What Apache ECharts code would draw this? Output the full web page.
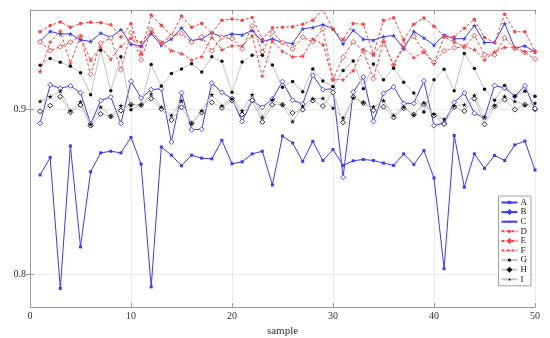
<!DOCTYPE html>
<html>
<head>
<meta charset="utf-8">
<script src="https://cdn.jsdelivr.net/npm/echarts@6/dist/echarts.min.js"></script>
<style>html,body{margin:0;padding:0;background:#fff}#chart{width:550px;height:338px}</style>
</head>
<body>
<div id="chart"></div>
<script>
const samples = [1,2,3,4,5,6,7,8,9,10,11,12,13,14,15,16,17,18,19,20,21,22,23,24,25,26,27,28,29,30,31,32,33,34,35,36,37,38,39,40,41,42,43,44,45,46,47,48,49,50];
const seriesNames = ['A','B','C','D','E','F','G','H','I'];
const xTickLabels = [0,10,20,30,40,50];
const yTickLabels = [0.8,0.9];

const dataA = [0.860,0.8706,0.7912,0.8776,0.8164,0.862,0.8734,0.8744,0.8734,0.8828,0.8666,0.7922,0.877,0.872,0.8656,0.872,0.8702,0.8698,0.881,0.8668,0.868,0.8728,0.8744,0.854,0.8836,0.8794,0.8682,0.8804,0.8688,0.8754,0.8658,0.8686,0.8694,0.8688,0.8672,0.8658,0.8728,0.8664,0.8748,0.8582,0.8032,0.884,0.8526,0.8728,0.864,0.8718,0.8688,0.8782,0.8806,0.863];
const dataB = [0.8913,0.9146,0.9126,0.914,0.9099,0.8909,0.9051,0.9073,0.8913,0.9168,0.9067,0.9117,0.9123,0.88,0.9099,0.8874,0.8877,0.9158,0.9101,0.9063,0.8925,0.9051,0.901,0.9061,0.9166,0.9053,0.903,0.9204,0.9117,0.9123,0.8587,0.9103,0.9194,0.8925,0.9095,0.9134,0.9034,0.9034,0.917,0.8899,0.8915,0.904,0.9097,0.8974,0.8947,0.9142,0.9128,0.9077,0.914,0.8996];
const dataC = [0.9411,0.947,0.9455,0.9455,0.9419,0.9409,0.946,0.9433,0.9482,0.9393,0.9381,0.9457,0.9387,0.9425,0.9492,0.9415,0.9425,0.9462,0.9437,0.9455,0.9449,0.9476,0.9409,0.9425,0.9403,0.9397,0.9486,0.9494,0.9512,0.9486,0.9395,0.9478,0.9423,0.9417,0.9439,0.9445,0.9364,0.947,0.9431,0.9387,0.9449,0.9425,0.9427,0.9506,0.9403,0.9403,0.9518,0.9368,0.9383,0.9346];
const dataD = [0.9468,0.9506,0.9528,0.9496,0.9518,0.9526,0.9522,0.951,0.9437,0.9516,0.9334,0.9569,0.9508,0.9445,0.9563,0.9496,0.9518,0.946,0.9538,0.9545,0.9538,0.9555,0.9421,0.9492,0.9496,0.9498,0.9514,0.9538,0.9601,0.9484,0.9421,0.9518,0.9514,0.933,0.9536,0.9553,0.9419,0.9514,0.9551,0.9502,0.9439,0.9437,0.949,0.9543,0.9433,0.9403,0.9575,0.9468,0.9468,0.935];
const dataE = [0.9407,0.9354,0.9377,0.9405,0.9441,0.9211,0.9399,0.9431,0.9237,0.9462,0.9298,0.948,0.9401,0.9441,0.9457,0.9405,0.9437,0.9352,0.9435,0.9427,0.9364,0.9504,0.9346,0.9466,0.9403,0.9364,0.9435,0.9407,0.9486,0.918,0.9314,0.9407,0.9354,0.9184,0.9409,0.9265,0.9393,0.9441,0.935,0.9283,0.9352,0.937,0.9377,0.9445,0.933,0.9328,0.9431,0.9368,0.9342,0.9304];
const dataF = [0.9227,0.9407,0.9472,0.9279,0.9441,0.9296,0.9374,0.9302,0.9381,0.9429,0.9405,0.947,0.9401,0.9354,0.9336,0.9298,0.9318,0.9435,0.936,0.9383,0.9383,0.9445,0.92,0.9411,0.935,0.9316,0.932,0.9425,0.9391,0.918,0.9178,0.9233,0.936,0.9328,0.9409,0.9267,0.9374,0.9312,0.9346,0.9275,0.9439,0.9405,0.9381,0.936,0.9298,0.9348,0.9374,0.9374,0.9348,0.935];
const dataG = [0.9265,0.9306,0.9283,0.9259,0.9219,0.9087,0.9356,0.9111,0.9316,0.8996,0.9026,0.9269,0.914,0.9215,0.9243,0.9275,0.9225,0.9316,0.9289,0.9101,0.9285,0.9326,0.9326,0.9267,0.9132,0.9166,0.9105,0.9243,0.917,0.9136,0.9233,0.9291,0.9123,0.9273,0.9178,0.9247,0.9162,0.9097,0.8982,0.9178,0.9241,0.9111,0.9336,0.9245,0.9119,0.9053,0.9142,0.9077,0.9107,0.9077];
const dataH = [0.8986,0.902,0.9075,0.898,0.9024,0.8899,0.897,0.8955,0.899,0.9026,0.9024,0.9063,0.9,0.8933,0.901,0.8913,0.8978,0.904,0.9006,0.9051,0.8966,0.9053,0.8921,0.9026,0.9026,0.8976,0.8996,0.9051,0.9018,0.9101,0.8919,0.9073,0.9036,0.8992,0.9014,0.8949,0.9004,0.8966,0.903,0.896,0.8909,0.9012,0.8988,0.9063,0.8907,0.9016,0.9057,0.8996,0.9026,0.9002];
const dataI = [0.9047,0.9075,0.9109,0.899,0.9043,0.8907,0.9012,0.8957,0.902,0.9026,0.9026,0.9091,0.9012,0.8962,0.9049,0.8913,0.899,0.9087,0.902,0.9061,0.899,0.9087,0.8949,0.9057,0.9026,0.8925,0.9016,0.9063,0.9065,0.9006,0.8947,0.9067,0.904,0.9014,0.9051,0.8962,0.9012,0.8964,0.9038,0.897,0.8939,0.902,0.9026,0.9083,0.8951,0.9022,0.9077,0.9047,0.9024,0.9036];

const BLUE = '#3a3aff', RED = '#ff4040', GRAY = '#c4c4c4', BLACK = '#111';
const STAR = 'path://M50,0 L61,35 L98,35 L68,57 L79,91 L50,70 L21,91 L32,57 L2,35 L39,35 Z';
const FONT = "'Liberation Serif','Times New Roman',serif";

function mk(name, data, lineColor, markColor, symbol, size, dashed, hollow) {
  return {
    name: name, type: 'line', data: samples.map((s, k) => [s, data[k]]),
    symbol: symbol, symbolSize: size, showSymbol: true,
    lineStyle: { color: lineColor, width: 1, type: dashed ? [3, 2] : 'solid' },
    itemStyle: hollow ? { color: '#fff', borderColor: markColor, borderWidth: 0.9 } : { color: markColor, borderWidth: 0 },
    emphasis: { disabled: true }, animation: false, z: 2
  };
}

const series = [
  mk('A', dataA, BLUE, BLUE, 'rect', 3, false, false),
  mk('B', dataB, BLUE, BLUE, 'diamond', 5, false, true),
  mk('C', dataC, BLUE, BLUE, STAR, 5, false, false),
  mk('D', dataD, RED, RED, 'circle', 3.5, true, false),
  mk('E', dataE, RED, RED, 'diamond', 5, true, true),
  mk('F', dataF, RED, RED, STAR, 5, true, false),
  mk('G', dataG, GRAY, BLACK, 'circle', 3.5, false, false),
  mk('H', dataH, GRAY, BLACK, 'diamond', 5, false, true),
  mk('I', dataI, GRAY, BLACK, STAR, 5, false, false)
];

const axisLineStyle = { lineStyle: { color: '#9a9a9a', width: 1 } };
const gridLine = { show: true, lineStyle: { color: '#ececec', width: 1 } };

const chart = echarts.init(document.getElementById('chart'), null, { renderer: 'canvas' });
chart.setOption({
  animation: false,
  backgroundColor: '#fff',
  grid: { left: 30, right: 15, top: 10, bottom: 31, containLabel: false, outerBoundsMode: 'none' },
  xAxis: [
    { type: 'value', min: 0, max: 50, interval: 2, position: 'bottom',
      name: 'sample', nameLocation: 'middle', nameGap: 16,
      nameTextStyle: { fontFamily: FONT, fontSize: 11, color: '#333' },
      axisLine: axisLineStyle, splitLine: gridLine,
      axisTick: { inside: true, length: 4, customValues: xTickLabels, lineStyle: { color: '#9a9a9a' } },
      axisLabel: { customValues: xTickLabels, fontFamily: FONT, fontSize: 10, color: '#333', margin: 4 } },
    { type: 'value', min: 0, max: 50, interval: 2, position: 'top',
      axisLine: axisLineStyle, splitLine: { show: false },
      axisTick: { inside: true, length: 4, customValues: xTickLabels, lineStyle: { color: '#9a9a9a' } },
      axisLabel: { show: false } }
  ],
  yAxis: [
    { type: 'value', min: 0.78, max: 0.96, interval: 0.02, position: 'left',
      name: 'SSIM', nameLocation: 'middle', nameGap: 18, nameRotate: 90,
      nameTextStyle: { fontFamily: FONT, fontSize: 11, color: '#333' },
      axisLine: axisLineStyle, splitLine: gridLine,
      axisTick: { inside: true, length: 4, customValues: yTickLabels, lineStyle: { color: '#9a9a9a' } },
      axisLabel: { customValues: yTickLabels, formatter: v => v.toFixed(1), fontFamily: FONT, fontSize: 10, color: '#333', margin: 4 } },
    { type: 'value', min: 0.78, max: 0.96, interval: 0.02, position: 'right',
      axisLine: axisLineStyle, splitLine: { show: false },
      axisTick: { inside: true, length: 4, customValues: yTickLabels, lineStyle: { color: '#9a9a9a' } },
      axisLabel: { show: false } }
  ],
  legend: {
    data: seriesNames, orient: 'vertical', right: 19, top: 196,
    itemWidth: 16, itemHeight: 4, itemGap: 0.6,
    backgroundColor: '#fff', borderColor: '#8a8a8a', borderWidth: 0.8,
    padding: [2, 4, 2, 2],
    textStyle: { fontFamily: FONT, fontSize: 9, lineHeight: 9, color: '#222', padding: [0, 0, 0, -2] }
  },
  series: series
});
</script>
</body>
</html>
